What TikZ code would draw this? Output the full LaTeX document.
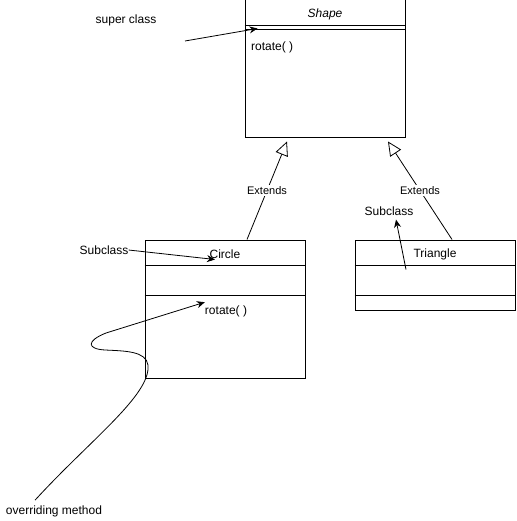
\documentclass[tikz,border=0pt]{standalone}
\usepackage{fontspec}
\setmainfont{Liberation Sans}
\usetikzlibrary{arrows.meta}

\begin{document}
\begin{tikzpicture}[x=1pt, y=-1pt,
            classbox/.style={rectangle, draw, line width=1pt, inner sep=0pt},
            lbl/.style={inner sep=0pt, font=\fontsize{12}{14}\selectfont},
            small/.style={inner sep=1pt, fill=white, font=\fontsize{11}{13}\selectfont},
            extends/.style={-{Triangle[open, length=14pt, width=13pt]}, line width=0.8pt, fill=white},
            arrow/.style={-{Stealth[length=8pt, width=7pt]}, line width=0.8pt}
            ]
            \useasboundingbox (0,0) rectangle (516,521);

            % Class boxes
            \node[classbox, minimum width=160pt, minimum height=138pt] (shapecls) at (325,69) {};
            \node[classbox, minimum width=160pt, minimum height=138pt] (circlecls) at (225,309) {};
            \node[classbox, minimum width=160pt, minimum height=70pt] (trianglecls) at (435,275) {};

            % Compartment lines
            \draw[line width=1pt] ([yshift=-26pt]shapecls.north west) -- ([yshift=-26pt]shapecls.north east);
            \draw[line width=1pt] ([yshift=-30pt]shapecls.north west) -- ([yshift=-30pt]shapecls.north east);
            \draw[line width=1pt] ([yshift=-26pt]circlecls.north west) -- ([yshift=-26pt]circlecls.north east);
            \draw[line width=1pt] ([yshift=-56pt]circlecls.north west) -- ([yshift=-56pt]circlecls.north east);
            \draw[line width=1pt] ([yshift=-26pt]trianglecls.north west) -- ([yshift=-26pt]trianglecls.north east);
            \draw[line width=1pt] ([yshift=-56pt]trianglecls.north west) -- ([yshift=-56pt]trianglecls.north east);

            % Class texts
            \node[lbl, font=\fontsize{12}{14}\selectfont\itshape] (shapename) at (325,14) {Shape};
            \node[lbl, anchor=west] (shaperot) at (251,47) {rotate( )};
            \node[lbl] (circlename) at (225,254) {Circle};
            \node[lbl] (circlerot) at (226,311) {rotate( )};
            \node[lbl] (trianglename) at (435,254) {Triangle};

            % Notes
            \node[lbl] (supernote) at (126,20) {super class};
            \node[lbl] (subcircle) at (104,250) {Subclass};
            \node[lbl] (subtriangle) at (389,211) {Subclass};
            \node[lbl] (overnote) at (54,511) {overriding method};
            \coordinate (supertail) at (185,41);

            % Inheritance
            \draw[extends] ([xshift=22pt]circlecls.north) -- node[small] {Extends} ([xshift=-38pt, yshift=-3pt]shapecls.south);
            \draw[extends] ([xshift=17pt]trianglecls.north) -- node[small] {Extends} ([xshift=63pt, yshift=-3pt]shapecls.south);

            % Note arrows
            \draw[arrow] (supertail) -- ([xshift=13pt, yshift=-29pt]shapecls.north west);
            \draw[arrow] (subcircle.east) -- ([xshift=-10pt, yshift=-20pt]circlecls.north);
            \draw[arrow] ([xshift=-29pt, yshift=-30pt]trianglecls.north) -- ([xshift=7pt, yshift=-4pt]subtriangle.south);
            \draw[arrow] ([xshift=-19pt, yshift=5pt]overnote.north) .. controls (90,440) and (151,395) .. (148,365)
                .. controls (146,351) and (125,351) .. (105,350)
                .. controls (87,349) and (86,341) .. (106,333)
                -- ([yshift=3pt]circlerot.north west);

        \end{tikzpicture}
\end{document}
